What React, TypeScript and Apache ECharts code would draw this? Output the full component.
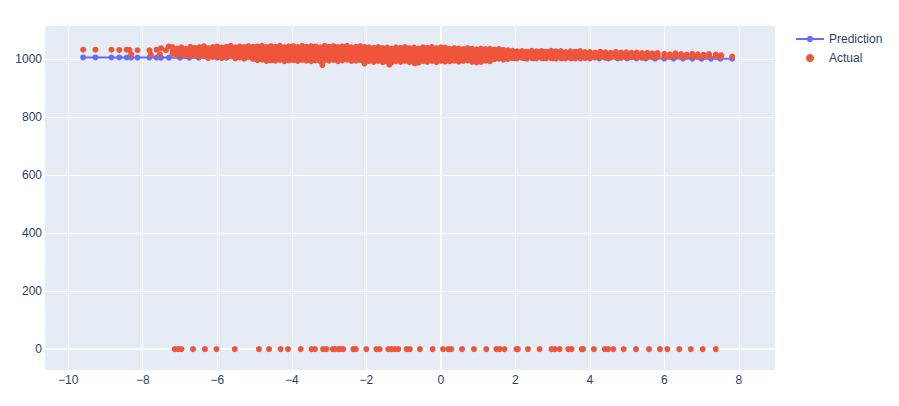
import { useEffect, useRef } from "react";
import * as echarts from "echarts";

// Sparse "Actual" points on the far left
const actualSparseX = [-9.6, -9.27, -8.84, -8.63, -8.43, -8.36, -8.31, -8.14, -7.82, -7.78, -7.63, -7.54, -7.51, -7.38, -7.3];
const actualSparseY = [1032, 1032, 1032, 1031, 1032, 1031, 1016, 1030, 1030, 1014, 1032, 1016, 1037, 1030, 1043];

// Dense "Actual" band: each entry is [x, y1, y2, ...]
const actualBandColumns: number[][] = [
  [-7.2, 1041, 1030, 1018],
  [-7.08, 1036, 1024, 1012],
  [-6.96, 1040, 1028, 1016],
  [-6.84, 1035, 1022, 1011],
  [-6.72, 1042, 1031, 1019, 1010],
  [-6.6, 1038, 1026, 1014],
  [-6.48, 1040, 1029, 1017, 1008],
  [-6.36, 1044, 1033, 1021, 1011],
  [-6.24, 1037, 1025, 1013, 1004],
  [-6.12, 1041, 1030, 1018, 1007],
  [-6.0, 1043, 1032, 1020, 1009],
  [-5.88, 1039, 1027, 1015, 1003],
  [-5.76, 1042, 1031, 1019, 1006],
  [-5.64, 1045, 1034, 1022, 1010],
  [-5.52, 1040, 1028, 1016, 1002],
  [-5.4, 1043, 1031, 1019, 1005],
  [-5.28, 1041, 1029, 1017, 1001],
  [-5.16, 1044, 1033, 1020, 1007],
  [-5.04, 1042, 1030, 1016, 1000],
  [-4.92, 1043, 1031, 1019, 1007, 996],
  [-4.8, 1045, 1034, 1022, 1010, 998],
  [-4.68, 1041, 1029, 1017, 1005, 993],
  [-4.56, 1044, 1032, 1020, 1008, 995],
  [-4.44, 1042, 1030, 1018, 1006, 994],
  [-4.32, 1045, 1033, 1021, 1009, 997],
  [-4.2, 1040, 1028, 1016, 1004, 992],
  [-4.08, 1043, 1031, 1019, 1007, 995],
  [-3.96, 1044, 1032, 1020, 1008, 996],
  [-3.84, 1041, 1029, 1017, 1005, 993],
  [-3.72, 1045, 1033, 1021, 1009, 997],
  [-3.6, 1042, 1030, 1018, 1006, 994],
  [-3.48, 1044, 1032, 1020, 1008, 992],
  [-3.36, 1043, 1031, 1019, 1007, 995],
  [-3.24, 1040, 1028, 1016, 1004, 993],
  [-3.12, 1045, 1033, 1021, 1009, 996],
  [-3.0, 1042, 1030, 1018, 1006, 994],
  [-2.88, 1044, 1032, 1020, 1008, 997],
  [-2.76, 1041, 1029, 1017, 1005, 992],
  [-2.64, 1043, 1031, 1019, 1007, 995],
  [-2.52, 1045, 1033, 1021, 1009, 998],
  [-2.4, 1040, 1028, 1016, 1004, 993],
  [-2.28, 1042, 1030, 1018, 1006, 994],
  [-2.16, 1044, 1032, 1020, 1008, 996],
  [-2.04, 1041, 1029, 1017, 1005, 991],
  [-1.92, 1040, 1028, 1016, 1004, 992],
  [-1.8, 1038, 1026, 1014, 1002, 990],
  [-1.68, 1041, 1029, 1017, 1005, 993],
  [-1.56, 1037, 1025, 1013, 1001, 989],
  [-1.44, 1039, 1027, 1015, 1003, 991],
  [-1.32, 1036, 1024, 1012, 1000, 988],
  [-1.2, 1040, 1028, 1016, 1004, 992],
  [-1.08, 1038, 1026, 1014, 1002, 990],
  [-0.96, 1041, 1029, 1017, 1005, 993],
  [-0.84, 1037, 1025, 1013, 1001, 989],
  [-0.72, 1039, 1027, 1015, 1003, 991],
  [-0.6, 1036, 1024, 1012, 1000, 987],
  [-0.48, 1040, 1028, 1016, 1004, 992],
  [-0.36, 1038, 1026, 1014, 1002, 990],
  [-0.24, 1041, 1029, 1017, 1005, 993],
  [-0.12, 1037, 1025, 1013, 1001, 989],
  [0.0, 1040, 1028, 1016, 1004, 993],
  [0.12, 1039, 1027, 1015, 1003, 991],
  [0.24, 1035, 1024, 1013, 1002, 992],
  [0.36, 1037, 1026, 1015, 1004, 994],
  [0.48, 1036, 1025, 1014, 1003, 991],
  [0.6, 1034, 1023, 1012, 1001, 993],
  [0.72, 1037, 1026, 1015, 1004, 995],
  [0.84, 1035, 1024, 1013, 1002, 990],
  [0.96, 1033, 1022, 1011, 1000, 988],
  [1.08, 1036, 1025, 1014, 1003, 990],
  [1.2, 1034, 1023, 1012, 1001, 994],
  [1.32, 1035, 1024, 1013, 1002, 992],
  [1.44, 1032, 1021, 1010, 999],
  [1.56, 1034, 1023, 1012, 1001],
  [1.68, 1031, 1020, 1009, 998],
  [1.8, 1030, 1019, 1008, 1000],
  [1.92, 1028, 1015, 1003],
  [2.05, 1026, 1014, 1002],
  [2.18, 1027, 1016, 1004],
  [2.31, 1025, 1013, 1001],
  [2.44, 1028, 1015, 1003],
  [2.57, 1026, 1014, 1002],
  [2.7, 1027, 1016, 1004],
  [2.83, 1025, 1013, 1002],
  [2.96, 1028, 1015, 1003],
  [3.09, 1026, 1014, 1001],
  [3.22, 1027, 1016, 1004],
  [3.35, 1024, 1013, 1002],
  [3.48, 1026, 1015, 1003],
  [3.61, 1025, 1014, 1002],
  [3.74, 1027, 1016, 1004],
  [3.87, 1024, 1013, 1003],
  [4.0, 1024, 1014, 1004],
  [4.14, 1022, 1013, 1005],
  [4.28, 1025, 1015, 1006],
  [4.42, 1023, 1013, 1004],
  [4.56, 1021, 1012, 1005],
  [4.7, 1024, 1014, 1006],
  [4.84, 1022, 1013, 1004],
  [4.98, 1023, 1014, 1005],
  [5.12, 1021, 1012, 1006],
  [5.26, 1022, 1013, 1005],
  [5.4, 1020, 1012, 1004],
  [5.54, 1021, 1013, 1006],
  [5.68, 1019, 1011, 1005],
  [5.82, 1020, 1012, 1006],
  [6.0, 1018, 1008],
  [6.15, 1016, 1007],
  [6.3, 1019, 1009],
  [6.45, 1017, 1007],
  [6.6, 1015, 1008],
  [6.75, 1018, 1009],
  [6.9, 1016, 1007],
  [7.05, 1014, 1008],
  [7.2, 1017, 1009],
  [7.38, 1015, 1007],
  [7.52, 1013, 1008],
  [7.82, 1008],
];

// Low outliers in the band
const actualDipX = [-3.18, -2.05, -1.38, -0.7];
const actualDipY = [979, 984, 980, 985];

// "Actual" points sitting at zero
const actualZeroX = [
  -7.14, -7.05, -6.96, -6.65, -6.33, -6.02, -5.53, -4.88, -4.61, -4.3, -4.1, -3.76, -3.47, -3.38, -3.16, -3.07,
  -2.9, -2.84, -2.75, -2.7, -2.62, -2.35, -2.28, -2.0, -1.73, -1.64, -1.41, -1.32, -1.23, -1.14, -0.92, -0.83,
  -0.56, -0.22, 0.06, 0.2, 0.28, 0.57, 0.89, 1.22, 1.49, 1.58, 1.71, 2.03, 2.07, 2.34, 2.65, 2.97, 3.06, 3.19,
  3.42, 3.51, 3.78, 3.82, 4.11, 4.4, 4.49, 4.63, 4.91, 5.24, 5.59, 5.88, 6.08, 6.4, 6.71, 7.03, 7.38,
];
const actualZeroY = actualZeroX.map(() => 0);

// Prediction line
const predX = [
  -9.6, -9.27, -8.84, -8.63, -8.43, -8.31, -8.14, -7.82, -7.63, -7.51, -7.3, -7.0, -6.75, -6.5, -6.25, -6.0,
  -5.75, -5.5, -5.25, -5.0, -4.75, -4.5, -4.25, -4.0, -3.75, -3.5, -3.25, -3.0, -2.75, -2.5, -2.25, -2.0,
  -1.75, -1.5, -1.25, -1.0, -0.75, -0.5, -0.25, 0.0, 0.25, 0.5, 0.75, 1.0, 1.25, 1.5, 1.75, 2.0, 2.25, 2.5,
  2.75, 3.0, 3.25, 3.5, 3.75, 4.0, 4.25, 4.5, 4.75, 5.0, 5.25, 5.5, 5.75, 6.0, 6.25, 6.5, 6.75, 7.0, 7.25,
  7.5, 7.82,
];
const predY = [
  1005.2, 1005.1, 1005.0, 1004.9, 1004.9, 1004.8, 1004.8, 1004.7, 1004.7, 1004.6, 1004.6, 1004.5, 1004.5,
  1004.4, 1004.3, 1004.3, 1004.2, 1004.2, 1004.1, 1004.0, 1004.0, 1003.9, 1003.9, 1003.8, 1003.7, 1003.7,
  1003.6, 1003.6, 1003.5, 1003.4, 1003.4, 1003.3, 1003.3, 1003.2, 1003.1, 1003.1, 1003.0, 1003.0, 1002.9,
  1002.8, 1002.8, 1002.7, 1002.6, 1002.6, 1002.5, 1002.5, 1002.4, 1002.3, 1002.3, 1002.2, 1002.2, 1002.1,
  1002.0, 1002.0, 1001.9, 1001.9, 1001.8, 1001.7, 1001.7, 1001.6, 1001.5, 1001.5, 1001.4, 1001.4, 1001.3,
  1001.2, 1001.2, 1001.1, 1001.1, 1001.0, 1000.9,
];

const seriesNames = ["Prediction", "Actual"];

const FONT = '"Liberation Sans", Arial, sans-serif';
const TEXT = "#2a3f5f";

export default function App() {
  const ref = useRef<HTMLDivElement>(null);

  useEffect(() => {
    document.body.style.margin = "0";
    if (!ref.current) return;
    const chart = echarts.init(ref.current, undefined, { renderer: "svg" });

    const actualData: number[][] = [];
    actualSparseX.forEach((x, i) => actualData.push([x, actualSparseY[i]]));
    actualBandColumns.forEach((col) => {
      for (let k = 1; k < col.length; k++) actualData.push([col[0], col[k]]);
    });
    actualDipX.forEach((x, i) => actualData.push([x, actualDipY[i]]));
    actualZeroX.forEach((x, i) => actualData.push([x, actualZeroY[i]]));

    const predData = predX.map((x, i) => [x, predY[i]]);

    chart.setOption({
      animation: false,
      textStyle: { fontFamily: FONT },
      grid: {
        left: 44,
        right: 124,
        top: 25,
        bottom: 36,
        show: true,
        backgroundColor: "#E5ECF6",
        borderWidth: 0,
      },
      legend: {
        data: seriesNames,
        orient: "vertical",
        left: 795,
        top: 33,
        padding: 0,
        itemWidth: 28,
        itemHeight: 8,
        itemGap: 7,
        textStyle: { color: TEXT, fontSize: 12, fontFamily: FONT },
      },
      xAxis: {
        type: "value",
        min: -10.65,
        max: 8.97,
        splitNumber: 10,
        axisLine: { show: false },
        axisTick: { show: false },
        splitLine: { show: true, lineStyle: { color: "#ffffff", width: 1 } },
        axisLabel: {
          color: TEXT,
          fontSize: 12,
          fontFamily: FONT,
          margin: 4,
          showMinLabel: false,
          showMaxLabel: false,
          formatter: (v: number) => (v < 0 ? "\u2212" + Math.abs(v) : String(v)),
        },
      },
      yAxis: {
        type: "value",
        min: -72,
        max: 1117,
        splitNumber: 6,
        axisLine: { show: false },
        axisTick: { show: false },
        splitLine: { show: true, lineStyle: { color: "#ffffff", width: 1 } },
        axisLabel: {
          color: TEXT,
          fontSize: 12,
          fontFamily: FONT,
          margin: 2,
          showMinLabel: false,
          showMaxLabel: false,
          formatter: (v: number) => String(v),
        },
      },
      series: [
        {
          name: "Prediction",
          type: "line",
          z: 2,
          data: predData,
          symbol: "circle",
          symbolSize: 6,
          showSymbol: true,
          color: "#636efa",
          lineStyle: { width: 2, color: "#636efa" },
          itemStyle: { color: "#636efa" },
          markLine: {
            silent: true,
            z: 1,
            symbol: "none",
            label: { show: false },
            lineStyle: { color: "#ffffff", width: 2, type: "solid" },
            data: [{ yAxis: 0 }, { xAxis: 0 }],
          },
        },
        {
          name: "Actual",
          type: "scatter",
          z: 3,
          data: actualData,
          symbol: "circle",
          symbolSize: 6,
          color: "#EF553B",
          itemStyle: { color: "#EF553B", opacity: 1 },
        },
      ],
    });

    return () => chart.dispose();
  }, []);

  return <div ref={ref} style={{ width: 899, height: 406 }} />;
}
